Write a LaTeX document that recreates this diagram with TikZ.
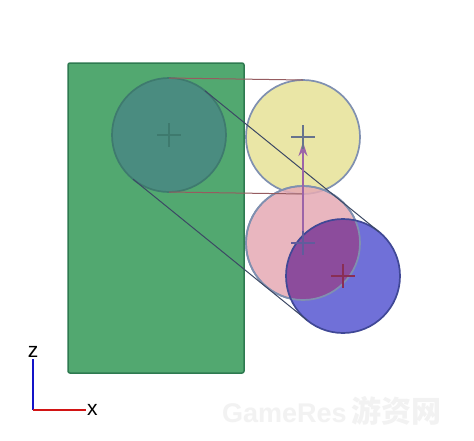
\documentclass[tikz,border=0pt]{standalone}
\usepackage{fontspec}
\setmainfont{Liberation Sans}
\newfontfamily\cjkfont{Noto Sans CJK SC}
\usetikzlibrary{arrows.meta}

\definecolor{slabgreen}{RGB}{82,168,112}
\definecolor{slabedge}{RGB}{46,122,80}
\definecolor{tealfill}{RGB}{74,140,128}
\definecolor{tealedge}{RGB}{62,122,110}
\definecolor{yellowfill}{RGB}{234,230,166}
\definecolor{pinkfill}{RGB}{230,170,180}
\definecolor{bluefill}{RGB}{112,112,216}
\definecolor{overlapfill}{RGB}{140,76,156}
\definecolor{ringedge}{RGB}{128,144,176}
\definecolor{blueedge}{RGB}{64,72,150}
\definecolor{brownline}{RGB}{150,92,96}
\definecolor{diagline}{RGB}{60,72,100}
\definecolor{arrowc}{RGB}{156,100,168}
\definecolor{zblue}{RGB}{20,20,200}
\definecolor{xred}{RGB}{210,20,20}

\begin{document}
\begin{tikzpicture}[x=1pt,y=-1pt,
  ball/.style={circle,minimum size=114pt,inner sep=0pt,outer sep=0pt,line width=1.7pt},
  sweep/.style={line width=1pt},
  crossline/.style={line width=1.3pt},
  axis/.style={line width=1.8pt},
  axislabel/.style={font=\fontsize{21}{21}\selectfont,inner sep=1pt}]

\useasboundingbox[fill=white] (0,0) rectangle (474,440);

% slab
\draw[fill=slabgreen,draw=slabedge,line width=1.5pt,rounded corners=2pt] (68,63) rectangle (244,373);

% spheres
\node[ball,fill=tealfill,draw=tealedge] (start) at (169,135) {};
\node[ball,fill=yellowfill,draw=ringedge] (top) at (303,137) {};
\node[ball,fill=pinkfill,fill opacity=0.85,draw=ringedge] (mid) at (303,243) {};
\node[ball,fill=bluefill] (end) at (343,276) {};
\begin{scope}
\clip (mid.center) circle (57);
\fill[overlapfill] (end.center) circle (57);
\end{scope}
\node[ball,draw=ringedge] (midring) at (mid.center) {};
\node[ball,draw=blueedge] (endring) at (end.center) {};

% sweep outlines
\draw[sweep,brownline] (start.north) -- (top.north)
	(start.south) -- (top.south);
\draw[sweep,diagline] (start.51) -- (end.51)
	(start.231) -- (end.231);

% motion
\draw[-{Stealth[length=14pt,width=9pt]},line width=1.8pt,arrowc,shorten >=5pt] (mid.center) -- (top.center);

% centres
\draw[crossline,tealedge] (start.center) ++(-12,0) -- ++(24,0) (start.center) ++(0,-12) -- ++(0,24);
\draw[crossline,ringedge!80!black] (top.center) ++(-12,0) -- ++(24,0) (top.center) ++(0,-12) -- ++(0,24);
\draw[crossline,blueedge!80!pinkfill] (mid.center) ++(-12,0) -- ++(24,0) (mid.center) ++(0,-12) -- ++(0,24);
\draw[crossline,xred!50!blueedge] (end.center) ++(-12,0) -- ++(24,0) (end.center) ++(0,-12) -- ++(0,24);

% axes
\coordinate (o) at (33,410);
\coordinate (zt) at (33,359);
\coordinate (xt) at (86,410);
\draw[axis,zblue] (o) -- (zt);
\draw[axis,xred] (o) -- (xt);
\node[axislabel,anchor=south] (zlabel) at (zt) {z};
\node[axislabel,anchor=west] (xlabel) at (xt) {x};

\node[anchor=west,inner sep=0pt,text=black!5,font=\bfseries\fontsize{27}{27}\selectfont] (mark) at (222,411) {GameRes\,{\cjkfont\fontsize{30}{30}\selectfont 游资网}};
\end{tikzpicture}
\end{document}
